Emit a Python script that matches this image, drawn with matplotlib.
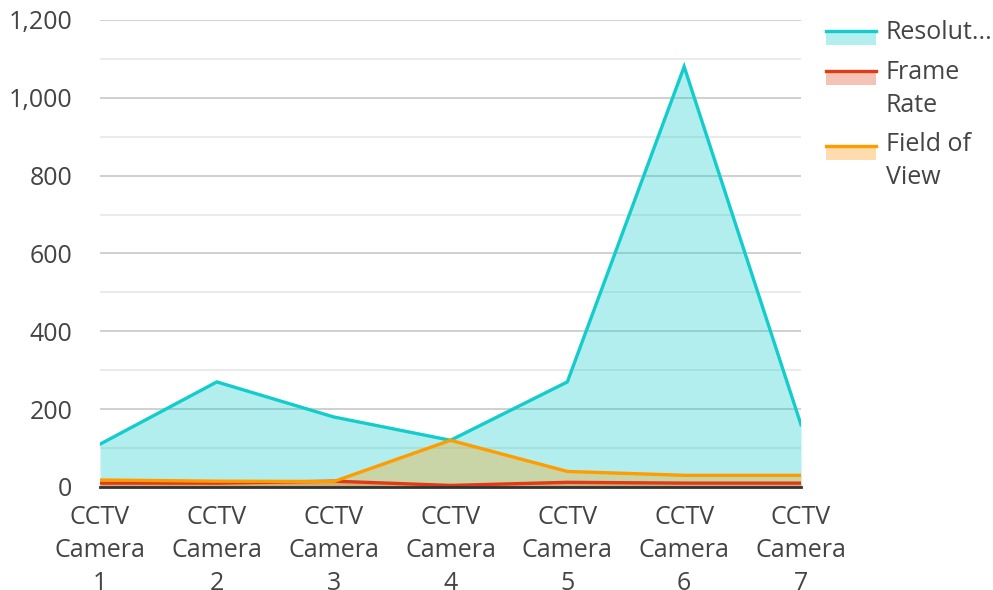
import matplotlib.pyplot as plt
from matplotlib.patches import Rectangle
from matplotlib.lines import Line2D
from matplotlib.ticker import MultipleLocator, FuncFormatter

plt.rcParams['font.family'] = ['Open Sans', 'DejaVu Sans']

cameras = ['CCTV\nCamera\n1', 'CCTV\nCamera\n2', 'CCTV\nCamera\n3', 'CCTV\nCamera\n4',
           'CCTV\nCamera\n5', 'CCTV\nCamera\n6', 'CCTV\nCamera\n7']
resolution = [110, 270, 180, 120, 270, 1080, 160]
frame_rate = [10, 10, 15, 4, 12, 10, 10]
field_of_view = [18, 15, 14, 120, 40, 30, 30]

series_names = ['Resolut...', 'Frame\nRate', 'Field of\nView']
line_colors = ['#14cccc', '#e03a16', '#ff9c00']
fill_colors = ['#b2efee', '#f4c2b6', '#ffdcae']

text_color = '#444444'
fs = 18

fig = plt.figure(figsize=(9.93, 5.9), dpi=100)
ax = fig.add_axes([100 / 993, 103 / 590, 701 / 993, 467 / 590])

x = list(range(len(cameras)))
all_series = [resolution, frame_rate, field_of_view]
for values, lc, alpha in zip(all_series, line_colors, [0.32, 0.3, 0.3]):
    ax.fill_between(x, values, 0, color=lc, alpha=alpha, lw=0, zorder=2)
for values, lc in zip(all_series, line_colors):
    ax.plot(x, values, color=lc, lw=2.4, zorder=3, solid_joinstyle='miter')

ax.set_xlim(0, len(cameras) - 1)
ax.set_ylim(0, 1200)
ax.yaxis.set_major_locator(MultipleLocator(200))
ax.yaxis.set_minor_locator(MultipleLocator(100))
ax.yaxis.set_major_formatter(FuncFormatter(lambda v, p: f'{int(v):,}'))
ax.grid(axis='y', which='major', color='#c4c4c4', lw=1.1, zorder=1)
ax.grid(axis='y', which='minor', color='#e6e6e6', lw=1.1, zorder=1)
ax.set_axisbelow(True)

for s in ['top', 'right', 'left']:
    ax.spines[s].set_visible(False)
ax.spines['bottom'].set_color('#333333')
ax.spines['bottom'].set_linewidth(2)
ax.spines['bottom'].set_zorder(4)

ax.set_xticks(x)
ax.set_xticklabels(cameras, linespacing=1.43)
ax.tick_params(axis='x', length=0, pad=13, labelsize=fs, labelcolor=text_color)
ax.tick_params(axis='y', which='both', length=0, pad=20, labelsize=fs, labelcolor=text_color)

# legend, drawn by hand
legend_rows = [(31, 32), (71, 72), (146, 144)]
for (line_y, text_y), name, lc, fc in zip(legend_rows, series_names, line_colors, fill_colors):
    fig.patches.append(Rectangle((826 / 993, 1 - (line_y + 14) / 590), 50 / 993, 14 / 590,
                                 transform=fig.transFigure, color=fc, lw=0))
    fig.lines.append(Line2D([826 / 993, 876 / 993], [1 - line_y / 590] * 2,
                            transform=fig.transFigure, color=lc, lw=2.4))
    fig.text(886 / 993, 1 - (text_y - 12) / 590, name, fontsize=fs, color=text_color,
             va='top', ha='left', linespacing=1.43)

fig.savefig('out.png', dpi=100)
